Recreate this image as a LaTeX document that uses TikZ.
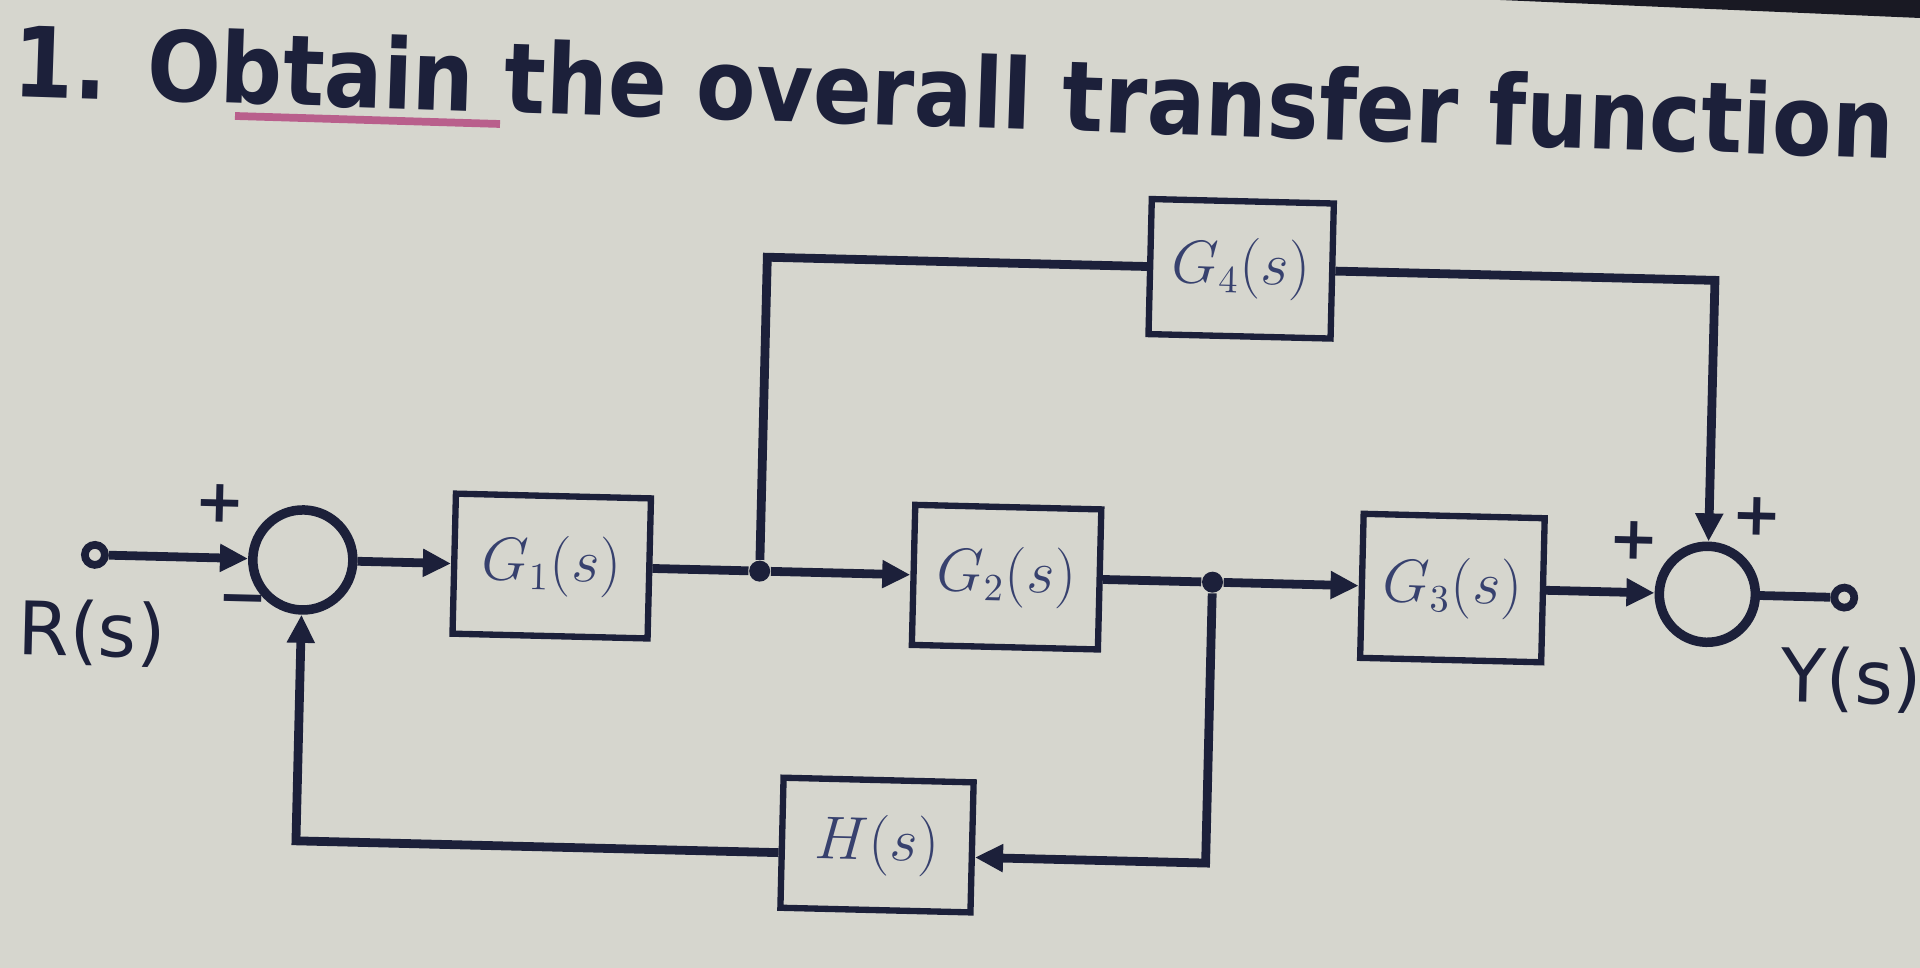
\documentclass[tikz,border=0pt]{standalone}
\usepackage{fontspec}
\setmainfont{DejaVu Sans}
\usepackage{graphicx}
\usetikzlibrary{arrows.meta}
\definecolor{bg}{RGB}{214,214,206}
\definecolor{ink}{RGB}{28,32,58}
\definecolor{lab}{RGB}{55,65,110}
\definecolor{squig}{RGB}{185,95,140}
\definecolor{bezel}{RGB}{25,25,35}
\begin{document}
\begin{tikzpicture}[x=0.01cm,y=-0.01cm,
  conn/.style={draw=ink, line width=2.5pt},
  arr/.style={conn, -{Triangle[length=8pt,width=7.5pt]}},
  block/.style={draw=ink, line width=1.8pt, inner sep=0pt, text=lab, font=\fontsize{16}{18}\selectfont},
  sumnode/.style={circle, draw=ink, line width=2.7pt, minimum size=1.0cm, inner sep=0pt},
  term/.style={circle, draw=ink, fill=bg, line width=2.2pt, minimum size=0.2cm, inner sep=0pt},
  jdot/.style={circle, fill=ink, minimum size=0.21cm, inner sep=0pt},
  sign/.style={text=ink, font=\bfseries\fontsize{17}{17}\selectfont, inner sep=0pt},
  lbl/.style={text=ink, font=\fontsize{21}{24}\selectfont, inner sep=0pt}
]
\fill[bg] (0,0) rectangle (1920,968);
\useasboundingbox (0,0) rectangle (1920,968);
\fill[bezel] (1500,0) -- (1920,0) -- (1920,18) -- cycle;

% title (own tilt)
\node[anchor=base west, inner sep=0pt, text=ink, rotate=-1.9] (title) at (12,96)
  {\resizebox{18.8cm}{0.74cm}{\bfseries 1. Obtain the overall transfer function}};
\coordinate (sqA) at (235,116);
\coordinate (sqB) at (500,124);
\draw[squig, line width=2.2pt] (sqA) -- (sqB);

\begin{scope}[rotate around={-1.4:(1000,560)}, transform shape]
% main path nodes
\node[term] (in) at (95,577) {};
\node[lbl] (R) at (94,655) {R(s)};
\node[sumnode] (s1) at (303,577) {};
\node[block, minimum width=1.95cm, minimum height=1.4cm] (G1) at (552,577) {$G_1(s)$};
\node[jdot] (b1) at (760,577) {};
\node[block, minimum width=1.86cm, minimum height=1.4cm] (G2) at (1007,577) {$G_2(s)$};
\node[jdot] (b2) at (1213,577) {};
\node[block, minimum width=1.81cm, minimum height=1.44cm] (G3) at (1453,577) {$G_3(s)$};
\node[sumnode, minimum size=0.96cm] (s2) at (1708,577) {};
\node[term] (out) at (1845,577) {};
\node[lbl] (Y) at (1854,659) {Y(s)};
\node[block, minimum width=1.82cm, minimum height=1.35cm] (G4) at (1234,263) {$G_4(s)$};
\node[block, minimum width=1.9cm, minimum height=1.3cm] (H) at (884,848) {$H(s)$};

\coordinate (tl) at (760,263);
\coordinate (tr) at (1708,263);
\coordinate (br) at (1213,858);
\coordinate (bl) at (303,858);

% signs
\node[sign] (p1) at (219,522) {+};
\node[sign] (m1) at (244,625) {−};
\node[sign] (p2) at (1633,525) {+};
\node[sign] (p3) at (1756,498) {+};

% connectors
\draw[arr] (in) -- (s1);
\draw[arr] (s1) -- (G1);
\draw[conn] (G1) -- (b1);
\draw[arr] (b1) -- (G2);
\draw[conn] (G2) -- (b2);
\draw[arr] (b2) -- (G3);
\draw[arr] (G3) -- (s2);
\draw[conn] (s2) -- (out);
\draw[conn] (b1) -- (tl) -- (G4);
\draw[arr] (G4) -- (tr) -- (s2);
\draw[arr] (b2) -- (br) -- (H.east |- br);
\draw[arr] (H.west |- bl) -- (bl) -- (s1);
\end{scope}
\end{tikzpicture}
\end{document}
